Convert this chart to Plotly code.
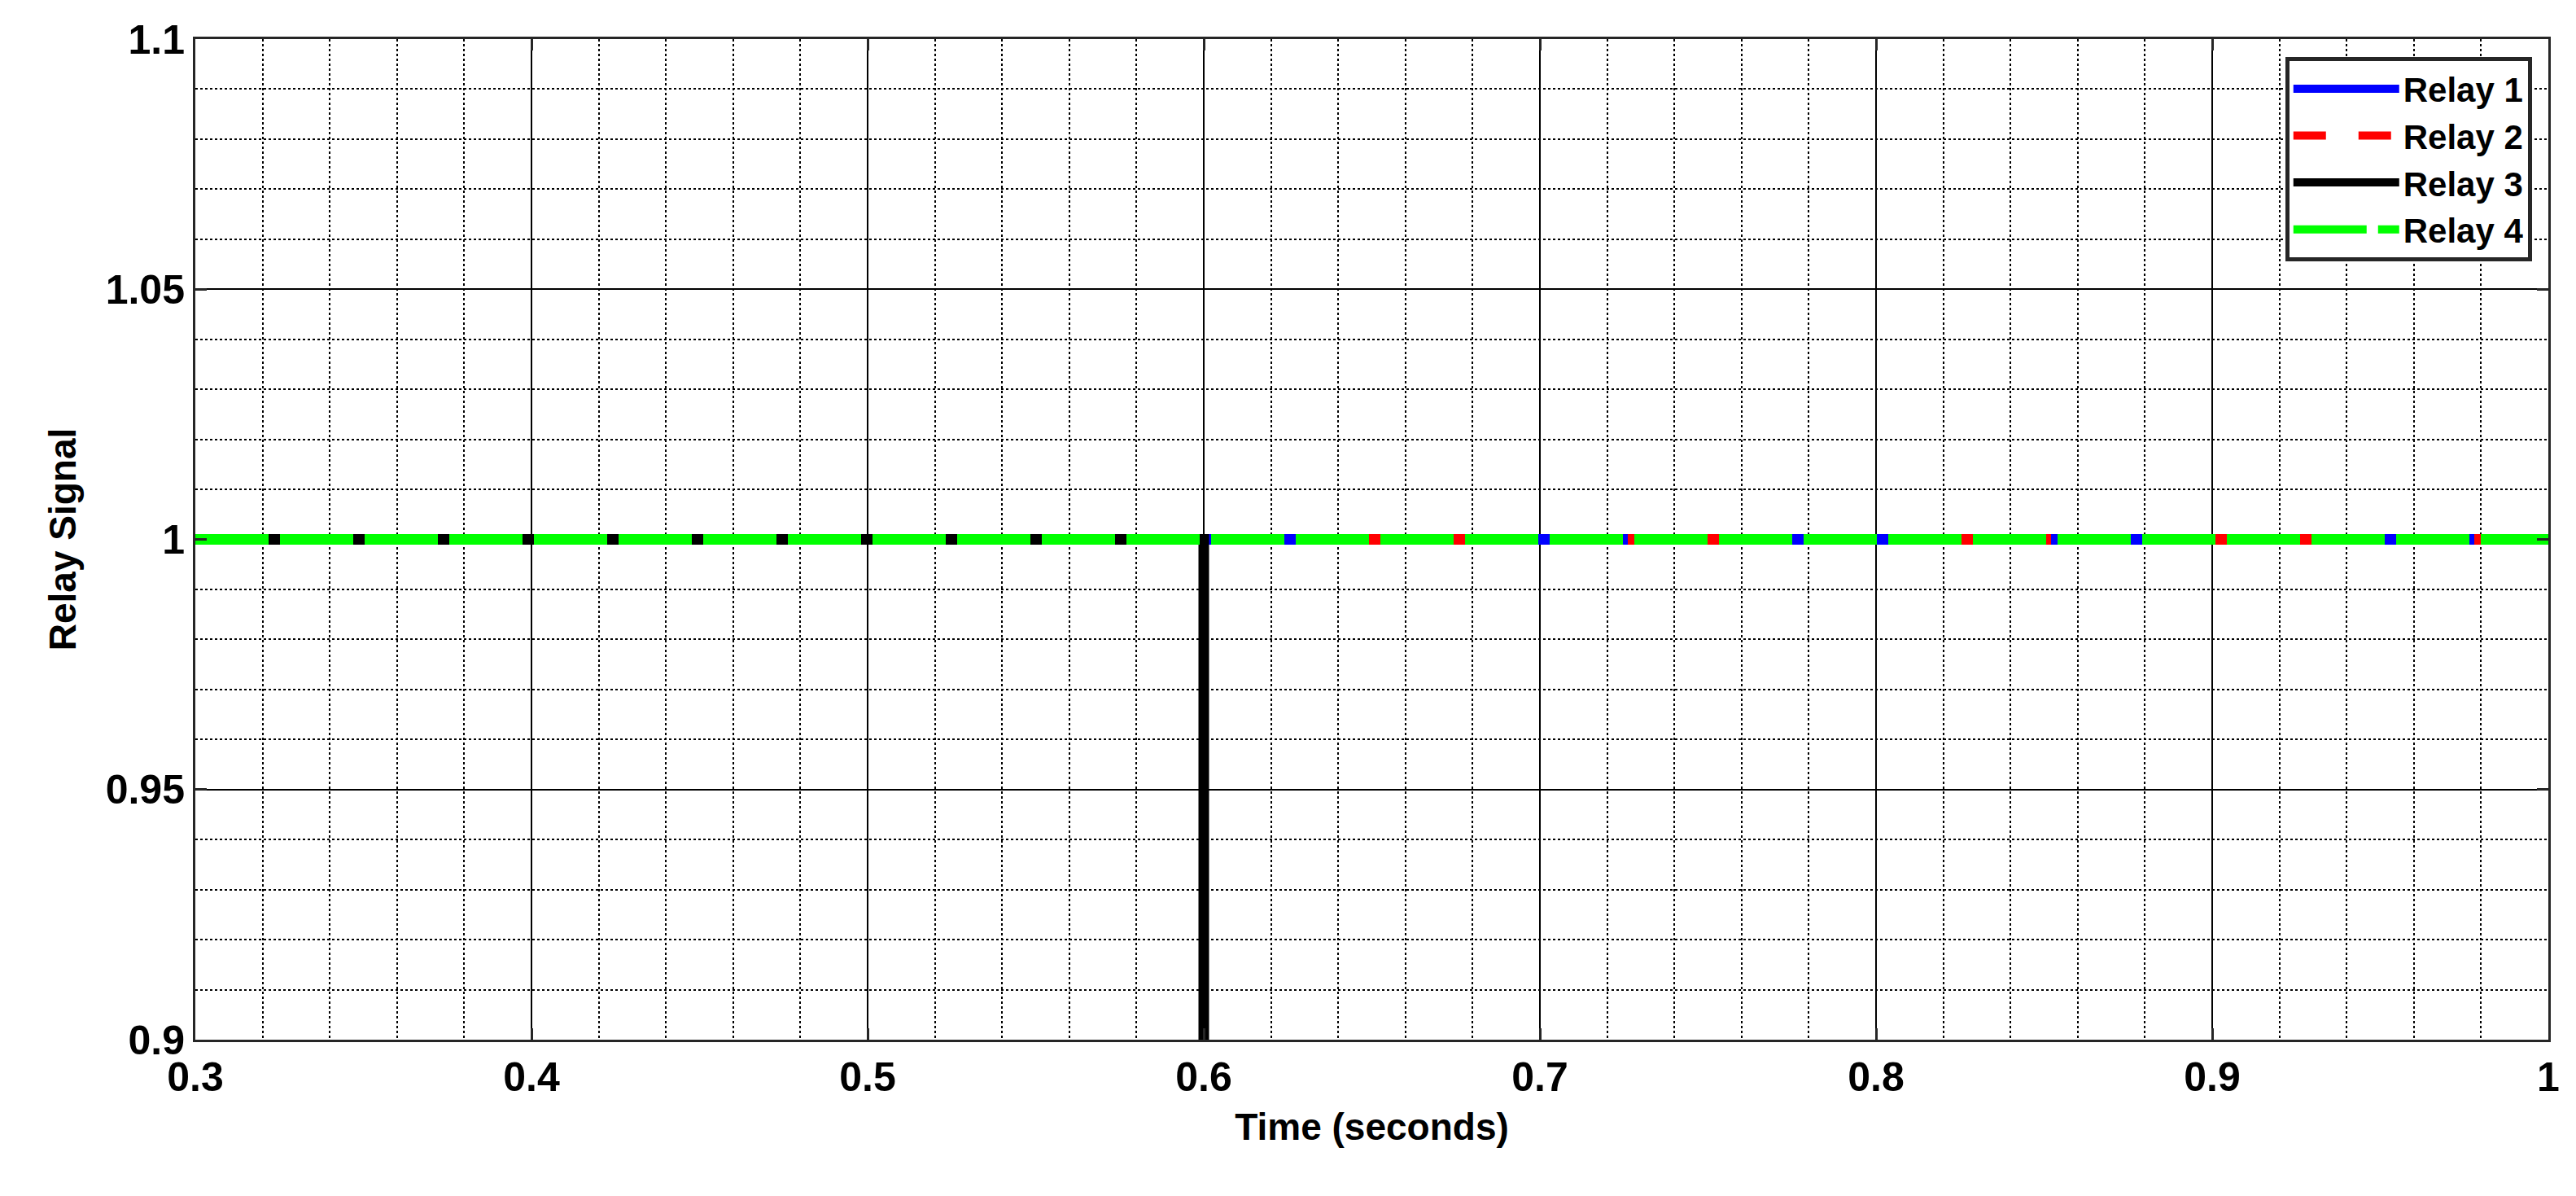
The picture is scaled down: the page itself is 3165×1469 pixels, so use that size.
import plotly.graph_objects as go

time_pts = [0.3, 0.6, 0.6, 1.0]
relay1 = [1, 1, 1, 1]
relay2 = [1, 1, 1, 1]
relay3 = [1, 1, 0, 0]
relay4 = [1, 1, 1, 1]

fig = go.Figure()
fig.add_trace(go.Scatter(x=time_pts, y=relay1, name="Relay 1", mode="lines",
                         line=dict(color="#0000ff", width=13)))
fig.add_trace(go.Scatter(x=time_pts, y=relay2, name="Relay 2", mode="lines",
                         line=dict(color="#ff0000", width=13, dash="40px,40px")))
fig.add_trace(go.Scatter(x=time_pts, y=relay3, name="Relay 3", mode="lines",
                         line=dict(color="#000000", width=13)))
fig.add_trace(go.Scatter(x=time_pts, y=relay4, name="Relay 4", mode="lines",
                         line=dict(color="#00ff00", width=13, dash="90px,14px")))

axis_common = dict(
    showline=True, linecolor="#262626", linewidth=3, mirror="ticks",
    ticks="inside", ticklen=14, tickwidth=3, tickcolor="#262626",
    showgrid=True, gridcolor="#000000", gridwidth=2,
    zeroline=False,
    tickfont=dict(family="Liberation Sans", size=50, color="#000000", weight="bold"),
)

fig.update_xaxes(axis_common, range=[0.3, 1.0],
                 tickvals=[0.3, 0.4, 0.5, 0.6, 0.7, 0.8, 0.9, 1.0],
                 ticktext=["0.3", "0.4", "0.5", "0.6", "0.7", "0.8", "0.9", "1"],
                 minor=dict(dtick=0.02, tick0=0.3, showgrid=True, gridcolor="#000000",
                            griddash="dot", gridwidth=2, ticks=""),
                 title=dict(text="Time (seconds)", standoff=18,
                            font=dict(family="Liberation Sans", size=46, color="#000000", weight="bold")))
fig.update_yaxes(axis_common, range=[0.9, 1.1],
                 tickvals=[0.9, 0.95, 1.0, 1.05, 1.1],
                 ticktext=["0.9", "0.95", "1", "1.05", "1.1"],
                 minor=dict(dtick=0.01, tick0=0.9, showgrid=True, gridcolor="#000000",
                            griddash="dot", gridwidth=2, ticks=""),
                 title=dict(text="Relay Signal", standoff=22,
                            font=dict(family="Liberation Sans", size=46, color="#000000", weight="bold")))

fig.update_layout(
    width=3165, height=1469,
    margin=dict(l=232, r=42, t=30, b=200),
    plot_bgcolor="white", paper_bgcolor="white",
    showlegend=True,
    legend=dict(x=0.993, y=0.982, xanchor="right", yanchor="top",
                bgcolor="white", bordercolor="#262626", borderwidth=5,
                font=dict(family="Liberation Sans", size=42, color="#000000", weight="bold"),
                itemwidth=130, tracegroupgap=0),
)

fig.write_html("out.html")
